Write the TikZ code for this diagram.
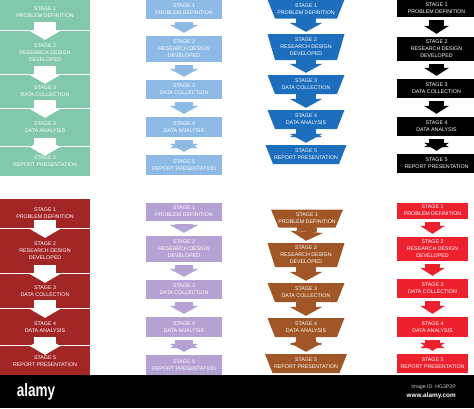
\documentclass[tikz,border=0pt]{standalone}
\usepackage{fontspec}
\setmainfont{Liberation Sans}
\usetikzlibrary{arrows.meta}

\definecolor{mint}{RGB}{130,200,172}
\definecolor{skyblue}{RGB}{141,186,229}
\definecolor{royal}{RGB}{30,110,190}
\definecolor{wine}{RGB}{163,38,39}
\definecolor{lilac}{RGB}{182,162,210}
\definecolor{rust}{RGB}{160,86,38}
\definecolor{scarlet}{RGB}{237,33,46}

\newcommand{\stageone}{STAGE 1\\PROBLEM DEFINITION}
\newcommand{\stagetwo}{STAGE 2\\RESEARCH DESIGN\\DEVELOPED}
\newcommand{\stagethree}{STAGE 3\\DATA COLLECTION}
\newcommand{\stagefour}{STAGE 4\\DATA ANALYSIS}
\newcommand{\stagefive}{STAGE 5\\REPORT PRESENTATION}

\begin{document}
\begin{tikzpicture}[x=1pt, y=-1pt, inner sep=0pt,
  stage text/.style={font=\fontsize{5.3}{7}\selectfont, text=white, align=center},
  band/.style={stage text, fill=#1, minimum width=90pt},
  box/.style={stage text, fill=#1},
  trap/.style 2 args={stage text, minimum width=#2, path picture={\fill[#1] (path picture bounding box.north west) -- (path picture bounding box.north east) -- ([xshift=-7.5pt]path picture bounding box.south east) -- ([xshift=7.5pt]path picture bounding box.south west) -- cycle;}},
  fat arrow/.style n args={4}{color=#1, line width=#2, -{Triangle[width=#3, length=#4, line width=0pt, fill=#1]}}]
\useasboundingbox (0,0) rectangle (474,408);
\fill[white] (0,0) rectangle (474,408);

% top row
\node[band=mint, minimum height=36pt] (g1) at (45,12) {\stageone};
\node[band=mint, minimum height=43pt] (g2) at (45,52.5) {\stagetwo};
\node[band=mint, minimum height=33pt] (g3) at (45,91.5) {\stagethree};
\node[band=mint, minimum height=37pt] (g4) at (45,127.5) {\stagefour};
\node[band=mint, minimum height=29pt] (g5) at (45,161.5) {\stagefive};
\draw[fat arrow={white}{22pt}{31pt}{9pt}] ([yshift=8pt]g1.south) edge ([yshift=-9pt]g2.north)
  ([yshift=8pt]g2.south) edge ([yshift=-9pt]g3.north) ([yshift=8pt]g3.south) edge ([yshift=-9pt]g4.north)
  ([yshift=8pt]g4.south) edge ([yshift=-9pt]g5.north);

\node[box=skyblue, minimum width=76pt, minimum height=19pt] (b1) at (184,9.5) {\stageone};
\node[box=skyblue, minimum width=76pt, minimum height=26pt] (b2) at (184,49) {\stagetwo};
\node[box=skyblue, minimum width=76pt, minimum height=19pt] (b3) at (184,89.5) {\stagethree};
\node[box=skyblue, minimum width=76pt, minimum height=20pt] (b4) at (184,127) {\stagefour};
\node[box=skyblue, minimum width=76pt, minimum height=20pt] (b5) at (184,165) {\stagefive};
\draw[fat arrow={skyblue}{18pt}{29pt}{8pt}] ([yshift=-3pt]b1.south) edge ([yshift=3pt]b2.north)
  ([yshift=-3pt]b2.south) edge ([yshift=3pt]b3.north) ([yshift=-3pt]b3.south) edge ([yshift=3pt]b4.north)
  ([yshift=-3pt]b4.south) edge ([yshift=3pt]b5.north);

\node[trap={royal}{77pt}, minimum height=19pt] (t1) at (306,9) {\stageone};
\node[trap={royal}{77pt}, minimum height=26pt] (t2) at (306,47) {\stagetwo};
\node[trap={royal}{77pt}, minimum height=19pt] (t3) at (306,84.5) {\stagethree};
\node[trap={royal}{77pt}, minimum height=19pt] (t4) at (306,119.5) {\stagefour};
\node[trap={royal}{81pt}, minimum height=19pt] (t5) at (306,154.5) {\stagefive};
\draw[fat arrow={royal}{20pt}{33pt}{9pt}] ([yshift=1pt]t1.south) edge ([yshift=2pt]t2.north)
  ([yshift=1pt]t2.south) edge ([yshift=2pt]t3.north) ([yshift=1pt]t3.south) edge ([yshift=2pt]t4.north)
  ([yshift=1pt]t4.south) edge ([yshift=2pt]t5.north);

\node[box=black, minimum width=79pt, minimum height=17pt] (k1) at (436.5,8.5) {\stageone};
\node[box=black, minimum width=79pt, minimum height=24pt] (k2) at (436.5,49) {\stagetwo};
\node[box=black, minimum width=79pt, minimum height=19pt] (k3) at (436.5,88.5) {\stagethree};
\node[box=black, minimum width=79pt, minimum height=19pt] (k4) at (436.5,126.5) {\stagefour};
\node[box=black, minimum width=79pt, minimum height=19pt] (k5) at (436.5,163.5) {\stagefive};
\draw[fat arrow={black}{15pt}{25pt}{8pt}] ([yshift=-3pt]k1.south) edge ([yshift=3pt]k2.north)
  ([yshift=-3pt]k2.south) edge ([yshift=3pt]k3.north) ([yshift=-3pt]k3.south) edge ([yshift=3pt]k4.north)
  ([yshift=-3pt]k4.south) edge ([yshift=3pt]k5.north);

% bottom row
\node[band=wine, minimum height=29pt] (r1) at (45,213.5) {\stageone};
\node[band=wine, minimum height=44pt] (r2) at (45,251) {\stagetwo};
\node[band=wine, minimum height=34pt] (r3) at (45,291) {\stagethree};
\node[band=wine, minimum height=36pt] (r4) at (45,327) {\stagefour};
\node[band=wine, minimum height=30pt] (r5) at (45,361) {\stagefive};
\draw[fat arrow={white}{22pt}{31pt}{9pt}] ([yshift=8pt]r1.south) edge ([yshift=-9pt]r2.north)
  ([yshift=8pt]r2.south) edge ([yshift=-9pt]r3.north) ([yshift=8pt]r3.south) edge ([yshift=-9pt]r4.north)
  ([yshift=8pt]r4.south) edge ([yshift=-9pt]r5.north);

\node[box=lilac, minimum width=76pt, minimum height=18pt] (l1) at (184,211.5) {\stageone};
\node[box=lilac, minimum width=76pt, minimum height=26pt] (l2) at (184,249) {\stagetwo};
\node[box=lilac, minimum width=76pt, minimum height=19pt] (l3) at (184,289.5) {\stagethree};
\node[box=lilac, minimum width=76pt, minimum height=20pt] (l4) at (184,327) {\stagefour};
\node[box=lilac, minimum width=76pt, minimum height=20pt] (l5) at (184,365) {\stagefive};
\draw[fat arrow={lilac}{18pt}{29pt}{8pt}] ([yshift=-3pt]l1.south) edge ([yshift=3pt]l2.north)
  ([yshift=-3pt]l2.south) edge ([yshift=3pt]l3.north) ([yshift=-3pt]l3.south) edge ([yshift=3pt]l4.north)
  ([yshift=-3pt]l4.south) edge ([yshift=3pt]l5.north);

\node[trap={rust}{72pt}, minimum height=18pt] (u1) at (307,218.5) {\stageone};
\node[trap={rust}{77pt}, minimum height=24pt] (u2) at (306,255) {\stagetwo};
\node[trap={rust}{77pt}, minimum height=19pt] (u3) at (306,292.5) {\stagethree};
\node[trap={rust}{77pt}, minimum height=19pt] (u4) at (306,327.5) {\stagefour};
\node[trap={rust}{82pt}, minimum height=19pt] (u5) at (306,363.5) {\stagefive};
\draw[fat arrow={rust}{20pt}{33pt}{9pt}] ([yshift=1pt]u1.south) edge ([yshift=2pt]u2.north)
  ([yshift=1pt]u2.south) edge ([yshift=2pt]u3.north) ([yshift=1pt]u3.south) edge ([yshift=2pt]u4.north)
  ([yshift=1pt]u4.south) edge ([yshift=2pt]u5.north);

\node[box=scarlet, minimum width=71pt, minimum height=16pt] (s1) at (432.5,210.5) {\stageone};
\node[box=scarlet, minimum width=71pt, minimum height=24pt] (s2) at (432.5,249) {\stagetwo};
\node[box=scarlet, minimum width=71pt, minimum height=19pt] (s3) at (432.5,288.5) {\stagethree};
\node[box=scarlet, minimum width=71pt, minimum height=20pt] (s4) at (432.5,327) {\stagefour};
\node[box=scarlet, minimum width=71pt, minimum height=19pt] (s5) at (432.5,363.5) {\stagefive};
\draw[fat arrow={scarlet}{15pt}{25pt}{8pt}] ([yshift=-3pt]s1.south) edge ([yshift=3pt]s2.north)
  ([yshift=-3pt]s2.south) edge ([yshift=3pt]s3.north) ([yshift=-3pt]s3.south) edge ([yshift=3pt]s4.north)
  ([yshift=-3pt]s4.south) edge ([yshift=3pt]s5.north);

% footer strip
\fill[black] (0,375) rectangle (474,408);
\node[text=white, font=\bfseries\fontsize{18}{18}\selectfont] (logo) at (36,391.5) {\scalebox{0.75}[1]{alamy}};
\node[anchor=east, text=black!20, font=\fontsize{5.2}{6}\selectfont] (imgid) at (456,387) {Image ID: HG3P2P};
\node[anchor=east, text=white, font=\bfseries\fontsize{6.4}{7}\selectfont] (site) at (456,396) {www.alamy.com};
\end{tikzpicture}
\end{document}
